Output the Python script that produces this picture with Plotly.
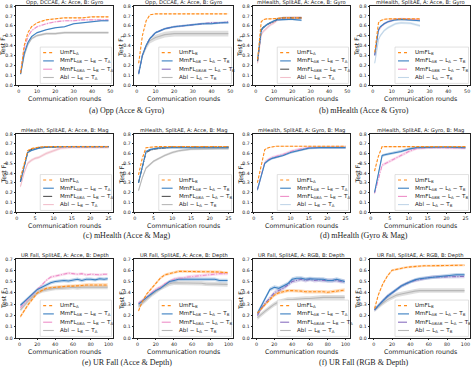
import plotly.graph_objects as go

# ---------------- data ----------------
x_opp = [1, 3, 5, 7, 10, 15, 20, 25, 30, 35, 40, 45, 49]
x_mh = [1, 2, 3, 4, 5, 6, 8, 10, 12, 15, 18, 20, 22, 25]
x_ur = [1, 5, 10, 15, 20, 25, 30, 35, 40, 45, 50, 55, 60, 65, 70, 75, 80, 85, 90, 95, 99]

titles = [
    "Opp, DCCAE, A: Acce, B: Gyro", "Opp, DCCAE, A: Acce, B: Gyro",
    "mHealth, SplitAE, A: Acce, B: Gyro", "mHealth, SplitAE, A: Acce, B: Gyro",
    "mHealth, SplitAE, A: Acce, B: Mag", "mHealth, SplitAE, A: Acce, B: Mag",
    "mHealth, SplitAE, A: Gyro, B: Mag", "mHealth, SplitAE, A: Gyro, B: Mag",
    "UR Fall, SplitAE, A: Acce, B: Depth", "UR Fall, SplitAE, A: Acce, B: Depth",
    "UR Fall, SplitAE, A: RGB, B: Depth", "UR Fall, SplitAE, A: RGB, B: Depth",
]
captions = ["(a) Opp (Acce & Gyro)", "(b) mHealth (Acce & Gyro)",
            "(c) mHealth (Acce & Mag)", "(d) mHealth (Gyro & Mag)",
            "(e) UR Fall (Acce & Depth)", "(f) UR Fall (RGB & Depth)"]
mid_sub = ["ABA", "ABAB", "ABB", "ABB", "ABA", "ABA", "ABA", "ABB", "ABA", "ABA", "ABAB", "ABAB"]

# values per panel: [UmFL, MmFL_AB, MmFL_ABx, Abl]
p1_um = [0.12, 0.40, 0.53, 0.59, 0.63, 0.66, 0.67, 0.68, 0.68, 0.68, 0.69, 0.69, 0.69]
p1_ab = [0.11, 0.32, 0.43, 0.49, 0.53, 0.56, 0.58, 0.59, 0.62, 0.63, 0.64, 0.65, 0.65]
p1_mx = [0.12, 0.37, 0.49, 0.55, 0.59, 0.62, 0.64, 0.65, 0.65, 0.66, 0.66, 0.66, 0.66]
p1_abl = [0.11, 0.30, 0.41, 0.47, 0.50, 0.52, 0.52, 0.53, 0.53, 0.53, 0.53, 0.53, 0.53]

p2_um = [0.22, 0.50, 0.65, 0.71, 0.72, 0.72, 0.72, 0.72, 0.72, 0.72, 0.72, 0.72, 0.72]
p2_ab = [0.11, 0.30, 0.40, 0.47, 0.53, 0.57, 0.59, 0.60, 0.61, 0.62, 0.62, 0.63, 0.63]
p2_mx = [0.12, 0.30, 0.40, 0.47, 0.53, 0.57, 0.59, 0.60, 0.61, 0.62, 0.63, 0.63, 0.64]
p2_abl = [0.12, 0.30, 0.39, 0.45, 0.48, 0.51, 0.52, 0.52, 0.52, 0.52, 0.52, 0.52, 0.52]

p3_um = [0.26, 0.45, 0.64, 0.66, 0.665, 0.67, 0.67, 0.67, 0.675, 0.68, 0.68, 0.68, 0.68, 0.68]
p3_ab = [0.25, 0.42, 0.55, 0.58, 0.60, 0.61, 0.63, 0.65, 0.66, 0.665, 0.665, 0.665, 0.66, 0.655]
p3_mx = [0.24, 0.42, 0.56, 0.58, 0.60, 0.61, 0.63, 0.64, 0.67, 0.68, 0.68, 0.68, 0.68, 0.68]
p3_abl = [0.22, 0.38, 0.51, 0.54, 0.56, 0.58, 0.61, 0.63, 0.66, 0.675, 0.68, 0.68, 0.68, 0.68]

p4_um = [0.33, 0.50, 0.63, 0.65, 0.66, 0.665, 0.67, 0.67, 0.67, 0.67, 0.67, 0.67, 0.67, 0.67]
p4_ab = [0.30, 0.45, 0.56, 0.59, 0.61, 0.62, 0.64, 0.65, 0.66, 0.665, 0.66, 0.66, 0.655, 0.65]
p4_mx = [0.30, 0.44, 0.55, 0.58, 0.60, 0.62, 0.64, 0.655, 0.665, 0.67, 0.665, 0.665, 0.66, 0.66]
p4_abl = [0.22, 0.36, 0.46, 0.50, 0.53, 0.55, 0.58, 0.60, 0.62, 0.63, 0.63, 0.625, 0.615, 0.60]

p5_um = [0.35, 0.50, 0.63, 0.65, 0.66, 0.665, 0.67, 0.67, 0.67, 0.67, 0.67, 0.67, 0.67, 0.67]
p5_ab = [0.31, 0.47, 0.61, 0.63, 0.645, 0.655, 0.665, 0.67, 0.67, 0.67, 0.67, 0.67, 0.67, 0.67]
p5_mx = [0.31, 0.48, 0.62, 0.64, 0.65, 0.66, 0.665, 0.67, 0.67, 0.67, 0.67, 0.67, 0.67, 0.67]
p5_abl = [0.26, 0.40, 0.50, 0.53, 0.55, 0.56, 0.60, 0.63, 0.655, 0.665, 0.665, 0.665, 0.665, 0.665]

p6_um = [0.38, 0.55, 0.66, 0.665, 0.67, 0.67, 0.67, 0.67, 0.67, 0.67, 0.67, 0.67, 0.67, 0.67]
p6_ab = [0.30, 0.47, 0.62, 0.64, 0.65, 0.655, 0.66, 0.66, 0.66, 0.66, 0.66, 0.66, 0.66, 0.66]
p6_mx = [0.30, 0.46, 0.61, 0.63, 0.645, 0.65, 0.66, 0.665, 0.665, 0.665, 0.665, 0.665, 0.665, 0.665]
p6_abl = [0.22, 0.35, 0.45, 0.49, 0.52, 0.54, 0.58, 0.61, 0.63, 0.645, 0.65, 0.65, 0.65, 0.65]

p7_um = [0.30, 0.48, 0.64, 0.66, 0.67, 0.675, 0.675, 0.675, 0.675, 0.675, 0.675, 0.675, 0.675, 0.675]
p7_ab = [0.23, 0.38, 0.50, 0.53, 0.55, 0.56, 0.58, 0.61, 0.63, 0.655, 0.66, 0.66, 0.66, 0.66]
p7_mx = [0.23, 0.38, 0.51, 0.54, 0.56, 0.57, 0.59, 0.62, 0.64, 0.66, 0.66, 0.665, 0.665, 0.665]
p7_abl = [0.22, 0.37, 0.50, 0.53, 0.55, 0.56, 0.585, 0.615, 0.635, 0.655, 0.66, 0.66, 0.66, 0.66]

p8_um = [0.42, 0.57, 0.67, 0.67, 0.67, 0.67, 0.67, 0.67, 0.67, 0.67, 0.67, 0.67, 0.67, 0.67]
p8_ab = [0.20, 0.40, 0.58, 0.59, 0.60, 0.605, 0.62, 0.645, 0.66, 0.665, 0.665, 0.665, 0.665, 0.66]
p8_mx = [0.19, 0.35, 0.48, 0.50, 0.52, 0.54, 0.58, 0.62, 0.65, 0.66, 0.66, 0.66, 0.66, 0.655]
p8_abl = [0.20, 0.40, 0.57, 0.59, 0.60, 0.61, 0.63, 0.65, 0.66, 0.665, 0.665, 0.665, 0.665, 0.66]

p9_um = [0.19, 0.24, 0.30, 0.35, 0.40, 0.42, 0.44, 0.445, 0.45, 0.45, 0.455, 0.46, 0.46, 0.46, 0.465, 0.47, 0.47, 0.475, 0.475, 0.47, 0.47]
p9_ab = [0.29, 0.32, 0.36, 0.39, 0.43, 0.45, 0.47, 0.49, 0.50, 0.505, 0.51, 0.505, 0.515, 0.52, 0.51, 0.52, 0.52, 0.515, 0.525, 0.52, 0.525]
p9_mx = [0.27, 0.31, 0.35, 0.39, 0.43, 0.47, 0.51, 0.54, 0.55, 0.56, 0.57, 0.575, 0.57, 0.565, 0.57, 0.56, 0.565, 0.56, 0.56, 0.565, 0.565]
p9_abl = [0.25, 0.29, 0.33, 0.37, 0.40, 0.42, 0.43, 0.435, 0.44, 0.44, 0.445, 0.445, 0.45, 0.445, 0.45, 0.45, 0.45, 0.45, 0.45, 0.445, 0.45]

p10_um = [0.24, 0.32, 0.39, 0.44, 0.49, 0.53, 0.56, 0.57, 0.58, 0.59, 0.59, 0.59, 0.59, 0.585, 0.59, 0.59, 0.59, 0.585, 0.585, 0.58, 0.58]
p10_ab = [0.30, 0.33, 0.36, 0.39, 0.42, 0.44, 0.47, 0.50, 0.51, 0.52, 0.52, 0.52, 0.52, 0.52, 0.52, 0.52, 0.515, 0.52, 0.51, 0.51, 0.51]
p10_mx = [0.31, 0.33, 0.36, 0.40, 0.43, 0.45, 0.48, 0.50, 0.52, 0.53, 0.53, 0.54, 0.545, 0.55, 0.555, 0.56, 0.565, 0.57, 0.57, 0.57, 0.57]
p10_abl = [0.28, 0.31, 0.34, 0.38, 0.41, 0.44, 0.46, 0.48, 0.49, 0.49, 0.49, 0.49, 0.49, 0.485, 0.485, 0.48, 0.48, 0.48, 0.48, 0.48, 0.475]

p11_um = [0.22, 0.26, 0.30, 0.34, 0.38, 0.40, 0.41, 0.42, 0.42, 0.42, 0.415, 0.41, 0.41, 0.415, 0.41, 0.41, 0.405, 0.41, 0.42, 0.425, 0.425]
p11_ab = [0.22, 0.28, 0.35, 0.43, 0.45, 0.44, 0.46, 0.48, 0.52, 0.53, 0.53, 0.52, 0.525, 0.52, 0.52, 0.52, 0.51, 0.51, 0.52, 0.51, 0.50]
p11_mx = [0.20, 0.26, 0.31, 0.36, 0.40, 0.42, 0.44, 0.47, 0.50, 0.51, 0.52, 0.51, 0.52, 0.51, 0.515, 0.51, 0.51, 0.505, 0.51, 0.50, 0.50]
p11_abl = [0.18, 0.21, 0.24, 0.27, 0.30, 0.32, 0.33, 0.34, 0.34, 0.345, 0.345, 0.35, 0.35, 0.355, 0.355, 0.36, 0.36, 0.36, 0.36, 0.36, 0.36]

p12_um = [0.26, 0.38, 0.48, 0.55, 0.60, 0.61, 0.62, 0.625, 0.63, 0.635, 0.635, 0.64, 0.64, 0.64, 0.64, 0.64, 0.645, 0.645, 0.645, 0.645, 0.645]
p12_ab = [0.25, 0.29, 0.33, 0.37, 0.40, 0.43, 0.46, 0.48, 0.50, 0.515, 0.525, 0.53, 0.535, 0.54, 0.545, 0.55, 0.555, 0.555, 0.56, 0.56, 0.56]
p12_mx = [0.25, 0.29, 0.33, 0.37, 0.40, 0.43, 0.46, 0.48, 0.50, 0.51, 0.52, 0.53, 0.535, 0.54, 0.54, 0.54, 0.545, 0.545, 0.545, 0.545, 0.545]
p12_abl = [0.25, 0.28, 0.31, 0.34, 0.36, 0.38, 0.39, 0.40, 0.41, 0.415, 0.42, 0.42, 0.42, 0.42, 0.42, 0.42, 0.42, 0.42, 0.42, 0.42, 0.42]

# band half-widths per panel [um, ab, mx, abl]
bands = [
    [0.005, 0.008, 0.008, 0.012], [0.004, 0.01, 0.01, 0.03],
    [0.006, 0.01, 0.01, 0.015], [0.006, 0.01, 0.012, 0.012],
    [0.006, 0.008, 0.008, 0.015], [0.005, 0.008, 0.008, 0.012],
    [0.005, 0.012, 0.015, 0.012], [0.005, 0.012, 0.015, 0.012],
    [0.015, 0.015, 0.012, 0.018], [0.012, 0.015, 0.015, 0.02],
    [0.015, 0.018, 0.018, 0.02], [0.01, 0.015, 0.015, 0.02],
]

panels = [
    (x_opp, [p1_um, p1_ab, p1_mx, p1_abl]), (x_opp, [p2_um, p2_ab, p2_mx, p2_abl]),
    (x_mh, [p3_um, p3_ab, p3_mx, p3_abl]), (x_mh, [p4_um, p4_ab, p4_mx, p4_abl]),
    (x_mh, [p5_um, p5_ab, p5_mx, p5_abl]), (x_mh, [p6_um, p6_ab, p6_mx, p6_abl]),
    (x_mh, [p7_um, p7_ab, p7_mx, p7_abl]), (x_mh, [p8_um, p8_ab, p8_mx, p8_abl]),
    (x_ur, [p9_um, p9_ab, p9_mx, p9_abl]), (x_ur, [p10_um, p10_ab, p10_mx, p10_abl]),
    (x_ur, [p11_um, p11_ab, p11_mx, p11_abl]), (x_ur, [p12_um, p12_ab, p12_mx, p12_abl]),
]

# ---------------- styles ----------------
W, H = 474, 368
ORANGE = "#ff8c1a"
BLUE = "#3a7fc1"
PINK = "#ee8fc8"
PURPLE = "#8a6fc0"
DGRAY = "#555555"
LGRAY = "#b8b8b8"
LPINK = "#f2c0cc"
LBLUE = "#c2d6e8"
mid_col = [PINK, PURPLE, DGRAY, PINK, DGRAY, DGRAY, PINK, PINK, PINK, PINK, PURPLE, PURPLE]
abl_col = [LGRAY, LGRAY, LPINK, LBLUE, LPINK, LGRAY, LBLUE, LBLUE, LGRAY, LGRAY, LGRAY, LGRAY]

col_px = [(16, 113), (134, 233), (253, 350), (370, 470)]
row_px = [(6, 85), (134, 212), (259, 338)]
xranges = [[-1.5, 51.5], [-0.2, 26.2], [-4, 105]]
xticks = [[0, 10, 20, 30, 40, 50], [0, 5, 10, 15, 20, 25], [0, 20, 40, 60, 80, 100]]
ymax = [0.8, 0.8, 0.7]

FONT = "DejaVu Sans"


def rgba(hexc, a):
    h = hexc.lstrip("#")
    return "rgba(%d,%d,%d,%.2f)" % (int(h[0:2], 16), int(h[2:4], 16), int(h[4:6], 16), a)


fig = go.Figure()
shapes = []
annos = []

for i, (xs, series) in enumerate(panels):
    r, c = i // 4, i % 4
    n = i + 1
    xa = "x" if n == 1 else "x%d" % n
    ya = "y" if n == 1 else "y%d" % n
    left, right = col_px[c]
    top, bot = row_px[r]
    fig.layout["xaxis" if n == 1 else "xaxis%d" % n] = dict(
        domain=[left / W, right / W], anchor=ya, range=xranges[r], automargin=False,
        tickvals=xticks[r], showline=True, mirror=True, linecolor="#222", linewidth=0.8,
        ticks="outside", ticklen=1.5, tickwidth=0.6, tickcolor="#222",
        tickfont=dict(size=4.8, family=FONT, color="#222"), showgrid=False, zeroline=False)
    yt = [round(k * 0.1, 1) for k in range(int(round(ymax[r] * 10)) + 1)]
    fig.layout["yaxis" if n == 1 else "yaxis%d" % n] = dict(
        domain=[1 - bot / H, 1 - top / H], anchor=xa, range=[0, ymax[r]], automargin=False,
        tickvals=yt, ticktext=["%.1f" % v for v in yt],
        showline=True, mirror=True, linecolor="#222", linewidth=0.8,
        ticks="outside", ticklen=1.5, tickwidth=0.6, tickcolor="#222",
        tickfont=dict(size=4.6, family=FONT, color="#222"), showgrid=False, zeroline=False)

    colors = [ORANGE, BLUE, mid_col[i], abl_col[i]]
    dashes = ["3px,1.6px", "solid", "4px,1.5px,1px,1.5px", "solid"]
    order = [3, 2, 1, 0]
    for k in order:
        ys = series[k]
        b = bands[i][k]
        up = [v + b for v in ys]
        lo = [v - b for v in ys]
        fig.add_trace(go.Scatter(x=xs, y=up, xaxis=xa, yaxis=ya, mode="lines",
                                 line=dict(width=0), showlegend=False, hoverinfo="skip"))
        fig.add_trace(go.Scatter(x=xs, y=lo, xaxis=xa, yaxis=ya, mode="lines",
                                 line=dict(width=0), fill="tonexty",
                                 fillcolor=rgba(colors[k], 0.3 if k != 3 else 0.45),
                                 showlegend=False, hoverinfo="skip"))
    for k in order:
        fig.add_trace(go.Scatter(x=xs, y=series[k], xaxis=xa, yaxis=ya, mode="lines",
                                 line=dict(color=colors[k], width=1.1, dash=dashes[k]),
                                 showlegend=False))

    # title
    annos.append(dict(text=titles[i], xref="paper", yref="paper",
                      x=(left + right) / 2 / W, y=1 - (top - 3.5) / H, xanchor="center",
                      yanchor="middle", showarrow=False,
                      font=dict(size=5.2, family=FONT, color="#222")))
    # axis titles
    annos.append(dict(text="Communication rounds", xref="paper", yref="paper",
                      x=(left + right) / 2 / W, y=1 - (bot + 13.5) / H, xanchor="center",
                      yanchor="middle", showarrow=False,
                      font=dict(size=6.3, family=FONT, color="#222")))
    annos.append(dict(text="Test F<sub>1</sub>", xref="paper", yref="paper",
                      x=(left - 12.5) / W, y=1 - (top + bot) / 2 / H, xanchor="center",
                      yanchor="middle", textangle=-90, showarrow=False,
                      font=dict(size=6.2, family=FONT, color="#222")))

    # legend (drawn box)
    dx = xa + " domain"
    dy = ya + " domain"
    shapes.append(dict(type="rect", xref=dx, yref=dy, x0=0.25, x1=0.985, y0=0.02, y1=0.48,
                       line=dict(color="#cccccc", width=0.6), fillcolor="rgba(255,255,255,0.85)",
                       layer="above"))
    L = "A" if c % 2 == 0 else "B"
    O = "B" if c % 2 == 0 else "A"
    labels = ["UmFL<sub>%s</sub>" % L,
              "MmFL<sub>AB</sub> − L<sub>%s</sub> − T<sub>%s</sub>" % (O, L),
              "MmFL<sub>%s</sub> − L<sub>%s</sub> − T<sub>%s</sub>" % (mid_sub[i], O, L),
              "Abl − L<sub>%s</sub> − T<sub>%s</sub>" % (O, L)]
    ly = [0.41, 0.305, 0.20, 0.095]
    dash_shape = ["dot", "solid", "dashdot", "solid"]
    for k in range(4):
        shapes.append(dict(type="line", xref=dx, yref=dy, x0=0.28, x1=0.39, y0=ly[k], y1=ly[k],
                           line=dict(color=colors[k], width=1.1, dash=dash_shape[k]),
                           layer="above"))
        annos.append(dict(text=labels[k], xref=dx, yref=dy, x=0.43, y=ly[k],
                          xanchor="left", yanchor="middle", showarrow=False,
                          font=dict(size=5.6, family=FONT, color="#222")))

# captions
cap_y = [110, 235, 362]
for j, cap in enumerate(captions):
    r, c = j // 2, j % 2
    x0 = col_px[2 * c][0]
    x1 = col_px[2 * c + 1][1]
    annos.append(dict(text=cap, xref="paper", yref="paper", x=(x0 + x1) / 2 / W + 0.005,
                      y=1 - cap_y[r] / H, xanchor="center", yanchor="middle",
                      showarrow=False,
                      font=dict(size=8, family="Liberation Serif", color="#222")))

fig.update_layout(template="none", width=W, height=H, margin=dict(l=0, r=0, t=0, b=0),
                  paper_bgcolor="white", plot_bgcolor="white",
                  showlegend=False, shapes=shapes, annotations=annos)
fig.write_html("out.html", config={"displayModeBar": False},
               post_script="document.body.style.margin='0px';document.body.style.overflow='hidden';")
